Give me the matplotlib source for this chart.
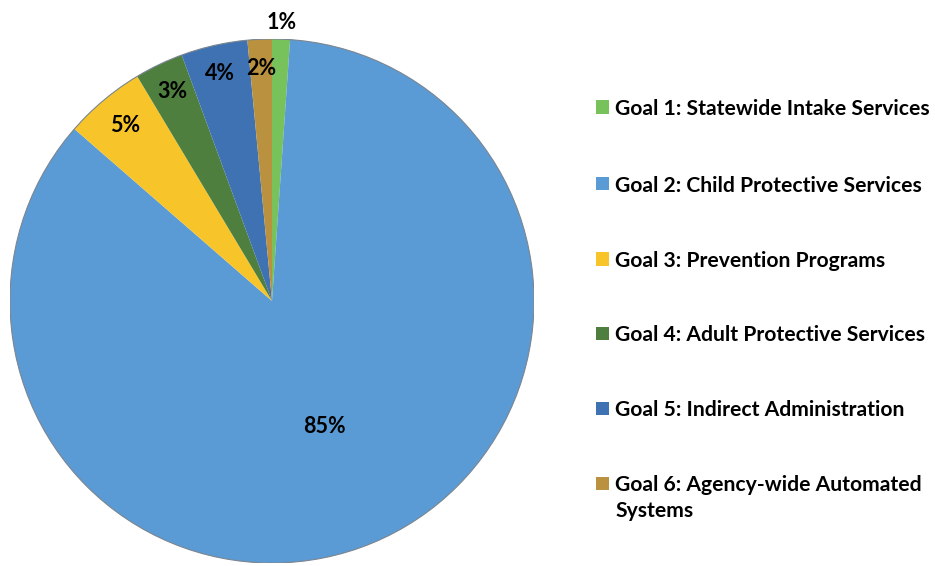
import matplotlib
matplotlib.use("Agg")
import matplotlib.pyplot as plt
from matplotlib.patches import Rectangle
import numpy as np

categories = ["Goal 1: Statewide Intake Services",
              "Goal 2: Child Protective Services",
              "Goal 3: Prevention Programs",
              "Goal 4: Adult Protective Services",
              "Goal 5: Indirect Administration",
              "Goal 6: Agency-wide Automated\nSystems"]
values = [1.1, 85.3, 5.0, 3.0, 4.1, 1.5]
pct_labels = ["1%", "85%", "5%", "3%", "4%", "2%"]
colors = ["#77c25a", "#5b9bd5", "#f7c52a", "#4f7f3f", "#3f72b3", "#b9913f"]

plt.rcParams['font.family'] = ['Lato', 'DejaVu Sans']

W, H = 935, 566
fig = plt.figure(figsize=(W / 100, H / 100), dpi=100)
cx, cy, r = 272, 301, 262
ax = fig.add_axes([(cx - r) / W, (H - cy - r) / H, 2 * r / W, 2 * r / H])
wedges, _ = ax.pie(values, colors=colors, startangle=90, counterclock=False,
                   radius=1.0, wedgeprops=dict(linewidth=0))
circ = plt.Circle((0, 0), 1.0, fill=False, edgecolor="#7a8590", linewidth=0.8)
ax.add_patch(circ)
ax.set_xlim(-1, 1)
ax.set_ylim(-1, 1)
ax.set_aspect('equal')
ax.axis('off')

label_r = [1.065, 0.52, 0.875, 0.885, 0.89, 0.89]
for w, lab, lr in zip(wedges, pct_labels, label_r):
    ang = np.deg2rad((w.theta1 + w.theta2) / 2)
    ax.text(lr * np.cos(ang), lr * np.sin(ang), lab, ha='center', va='center',
            fontsize=15.5, fontweight='bold', color='black', clip_on=False)

row_y = [107, 184, 259, 333, 408, 483]
for lab, col, yy in zip(categories, colors, row_y):
    fig.add_artist(Rectangle((596 / W, 1 - (yy + 6.5) / H), 13 / W, 13 / H,
                             transform=fig.transFigure, facecolor=col,
                             edgecolor='none'))
    fig.text(615 / W, 1 - (yy - 8) / H, lab, ha='left', va='top',
             fontsize=15.2, fontweight='bold', color='black', linespacing=1.35)

fig.savefig("out.png", dpi=100)
